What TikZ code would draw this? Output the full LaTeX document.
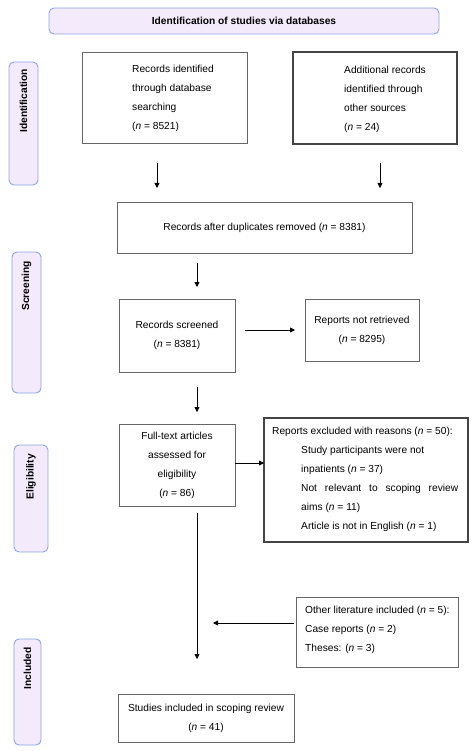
\documentclass[tikz,border=0pt]{standalone}
\usepackage{fontspec}
\setmainfont{Liberation Sans}
\usetikzlibrary{arrows.meta}
\definecolor{bandfill}{HTML}{F3EAFB}
\definecolor{banddraw}{HTML}{8FA3E0}
\definecolor{boxdraw}{HTML}{666666}
\definecolor{boxdark}{HTML}{444444}
\begin{document}
\begin{tikzpicture}[x=1pt,y=-1pt,
  every node/.style={font=\fontsize{10.2}{19}\selectfont, inner sep=0pt},
  box/.style={draw=boxdraw, line width=0.9pt, fill=white},
  darkbox/.style={draw=boxdark, line width=1.2pt, fill=white},
  band/.style={draw=banddraw, fill=bandfill, rounded corners=5pt, line width=0.9pt},
  side/.style={band},
  sidetxt/.style={rotate=90, anchor=east, font=\fontsize{10.2}{12}\selectfont\bfseries},
  arr/.style={-{Triangle[width=5pt,length=5pt]}, line width=0.8pt, black},
  txt/.style={align=left, anchor=west},
  ctxt/.style={align=center}
]
\useasboundingbox (0,0) rectangle (474,751);

% banner
\node[band, minimum width=390pt, minimum height=26pt, font=\fontsize{10.2}{12}\selectfont\bfseries] (top) at (244,21) {Identification of studies via databases};

% side labels
\node[side, minimum width=29pt, minimum height=123pt] (sid) at (23.5,123.5) {};
\node[sidetxt] (tid) at (23.5,69) {Identification};
\node[side, minimum width=29pt, minimum height=141pt] (sscr) at (26.5,322.5) {};
\node[sidetxt] (tscr) at (26.5,261) {Screening};
\node[side, minimum width=34pt, minimum height=107pt] (selig) at (31,498.5) {};
\node[sidetxt] (telig) at (31,454) {Eligibility};
\node[side, minimum width=27pt, minimum height=106pt] (sinc) at (27.5,692) {};
\node[sidetxt] (tinc) at (27.5,647) {Included};

% boxes
\node[box, minimum width=165pt, minimum height=91pt] (b1) at (164.5,97.5) {};
\node[txt] (t1) at (132,98.5) {Records identified\\through database\\searching\\(\textit{n} = 8521)};

\node[darkbox, minimum width=164pt, minimum height=92pt] (b2) at (375,98) {};
\node[txt] (t2) at (344,99) {Additional records\\identified through\\other sources\\(\textit{n} = 24)};

\node[box, minimum width=295pt, minimum height=51pt] (b3) at (264.5,227.5) {Records after duplicates removed (\textit{n} = 8381)};

\node[box, minimum width=116pt, minimum height=73pt, ctxt] (b4) at (177,335.5) {Records screened\\(\textit{n} = 8381)};

\node[box, minimum width=114pt, minimum height=62pt, ctxt] (b5) at (362,330) {Reports not retrieved\\(\textit{n} = 8295)};

\node[box, minimum width=116pt, minimum height=82pt, ctxt] (b6) at (177,465) {Full-text articles\\assessed for\\eligibility\\(\textit{n} = 86)};

\node[darkbox, minimum width=204pt, minimum height=124pt] (b7) at (366,480) {};
\node[txt] (t7) at (272,479.5) {Reports excluded with reasons (\textit{n} = 50):\\
\hspace*{29pt}Study participants were not\\
\hspace*{29pt}inpatients (\textit{n} = 37)\\
\hspace*{29pt}\makebox[157pt][s]{Not relevant to scoping review}\\
\hspace*{29pt}aims (\textit{n} = 11)\\
\hspace*{29pt}Article is not in English (\textit{n} = 1)};

\node[box, minimum width=162pt, minimum height=70pt] (b8) at (377,632) {};
\node[txt] (t8) at (305,629.5) {Other literature included (\textit{n} = 5):\\Case reports (\textit{n} = 2)\\Theses: (\textit{n} = 3)};

\node[box, minimum width=176pt, minimum height=48pt, ctxt] (b9) at (206,718) {Studies included in scoping review\\(\textit{n} = 41)};

% connector coordinates
\coordinate (a1s) at (157,163); \coordinate (a1e) at (157,188);
\coordinate (a2s) at (380,163); \coordinate (a2e) at (380,188);
\coordinate (a3s) at (197,263); \coordinate (a3e) at (197,287);
\coordinate (a4s) at (245,330); \coordinate (a4e) at (295,330);
\coordinate (a5s) at (197,387); \coordinate (a5e) at (197,412);
\coordinate (a6s) at (235,463); \coordinate (a6e) at (264,463);
\coordinate (a7s) at (197,513); \coordinate (a7e) at (197,659);
\coordinate (a8s) at (294,623); \coordinate (a8e) at (213,623);

\draw[arr] (a1s) -- (a1e);
\draw[arr] (a2s) -- (a2e);
\draw[arr] (a3s) -- (a3e);
\draw[arr] (a4s) -- (a4e);
\draw[arr] (a5s) -- (a5e);
\draw[arr] (a6s) -- (a6e);
\draw[arr] (a7s) -- (a7e);
\draw[arr] (a8s) -- (a8e);
\end{tikzpicture}
\end{document}
